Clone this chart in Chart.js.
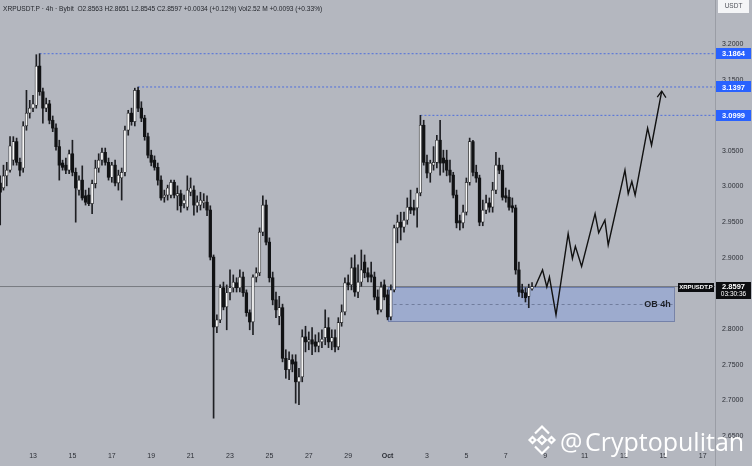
<!DOCTYPE html>
<html>
<head>
<meta charset="utf-8">
<script src="https://cdn.jsdelivr.net/npm/chart.js@4.4.1/dist/chart.umd.min.js"></script>
<style>
  html, body { margin: 0; padding: 0; background: #b4b7bf; }
  canvas { display: block; }
</style>
</head>
<body>
<canvas id="chart" width="752" height="466"></canvas>
<script>
// XRPUSDT.P 4h candles, index 0 = Sep 11 08:00, one step = 4 hours
const openVals = [
  3.005, 2.998, 3.015, 3.023, 3.037, 3.063, 3.034, 3.026, 3.085, 3.103,
  3.110, 3.114, 3.169, 3.133, 3.110, 3.116, 3.093, 3.082, 3.056, 3.033,
  3.030, 3.023, 3.046, 3.020, 2.995, 3.009, 2.987, 2.988, 2.976, 3.004,
  3.026, 3.037, 3.048, 3.034, 3.013, 3.030, 3.005, 3.012, 3.020, 3.079,
  3.103, 3.091, 3.135, 3.110, 3.096, 3.070, 3.044, 3.037, 3.027, 3.009,
  2.985, 2.988, 2.988, 3.006, 2.987, 2.990, 2.976, 2.971, 2.992, 2.995,
  2.973, 2.974, 2.977, 2.978, 2.967, 2.901, 2.803, 2.813, 2.858, 2.831,
  2.851, 2.858, 2.865, 2.858, 2.873, 2.851, 2.823, 2.810, 2.873, 2.879,
  2.936, 2.974, 2.922, 2.872, 2.841, 2.818, 2.830, 2.759, 2.743, 2.757,
  2.754, 2.726, 2.733, 2.789, 2.782, 2.785, 2.782, 2.776, 2.782, 2.788,
  2.802, 2.782, 2.788, 2.775, 2.809, 2.824, 2.865, 2.862, 2.886, 2.852,
  2.866, 2.894, 2.879, 2.876, 2.873, 2.845, 2.827, 2.862, 2.848, 2.817,
  2.855, 2.942, 2.950, 2.943, 2.953, 2.971, 2.970, 2.970, 2.991, 3.086,
  3.034, 3.019, 3.030, 3.034, 3.065, 3.040, 3.037, 3.023, 3.016, 2.988,
  2.952, 2.949, 2.964, 3.006, 3.063, 3.020, 3.012, 2.950, 2.967, 2.977,
  2.971, 2.995, 3.030, 3.023, 2.987, 2.985, 2.973, 2.970, 2.883, 2.855,
  2.851, 2.846, 2.8563
];
const highVals = [
  3.015, 3.030, 3.034, 3.070, 3.070, 3.068, 3.040, 3.091, 3.135, 3.121,
  3.128, 3.185, 3.1864, 3.138, 3.124, 3.121, 3.099, 3.088, 3.065, 3.037,
  3.040, 3.051, 3.065, 3.026, 3.015, 3.029, 2.995, 2.998, 3.009, 3.037,
  3.046, 3.054, 3.054, 3.040, 3.034, 3.037, 3.023, 3.026, 3.085, 3.107,
  3.110, 3.138, 3.1397, 3.119, 3.100, 3.075, 3.051, 3.043, 3.033, 3.015,
  2.995, 3.002, 3.009, 3.009, 3.001, 2.995, 2.988, 3.015, 3.012, 3.001,
  2.987, 2.992, 2.990, 2.987, 2.973, 2.904, 2.820, 2.862, 2.866, 2.862,
  2.883, 2.876, 2.872, 2.883, 2.880, 2.855, 2.827, 2.876, 2.886, 2.942,
  2.987, 2.981, 2.928, 2.880, 2.852, 2.846, 2.835, 2.771, 2.768, 2.764,
  2.764, 2.745, 2.799, 2.804, 2.796, 2.802, 2.792, 2.795, 2.799, 2.827,
  2.816, 2.799, 2.799, 2.816, 2.834, 2.872, 2.876, 2.900, 2.904, 2.890,
  2.911, 2.904, 2.886, 2.894, 2.880, 2.855, 2.866, 2.869, 2.855, 2.862,
  2.946, 2.960, 2.964, 2.964, 2.984, 2.995, 2.981, 2.998, 3.0999, 3.093,
  3.044, 3.037, 3.056, 3.072, 3.093, 3.051, 3.051, 3.037, 3.020, 2.995,
  2.960, 2.974, 3.012, 3.068, 3.065, 3.030, 3.016, 2.981, 2.988, 2.984,
  3.006, 3.048, 3.040, 3.030, 2.998, 2.995, 2.984, 2.974, 2.894, 2.863,
  2.858, 2.863, 2.8651
];
const lowVals = [
  2.946, 2.995, 3.001, 3.020, 3.030, 3.030, 3.015, 3.020, 3.079, 3.096,
  3.105, 3.110, 3.128, 3.089, 3.105, 3.088, 3.077, 3.051, 3.009, 3.023,
  3.018, 3.018, 3.015, 2.950, 2.988, 2.981, 2.974, 2.973, 2.962, 2.998,
  3.020, 3.030, 3.030, 3.009, 3.006, 3.001, 2.995, 2.981, 3.015, 3.072,
  3.086, 3.085, 3.105, 3.091, 3.065, 3.040, 3.029, 3.023, 3.002, 2.981,
  2.978, 2.981, 2.984, 2.984, 2.967, 2.964, 2.970, 2.967, 2.987, 2.960,
  2.964, 2.967, 2.970, 2.959, 2.897, 2.675, 2.795, 2.809, 2.827, 2.799,
  2.841, 2.852, 2.852, 2.852, 2.846, 2.818, 2.799, 2.792, 2.866, 2.875,
  2.931, 2.918, 2.866, 2.834, 2.816, 2.806, 2.754, 2.731, 2.729, 2.740,
  2.696, 2.694, 2.726, 2.768, 2.771, 2.764, 2.768, 2.768, 2.774, 2.778,
  2.774, 2.771, 2.768, 2.771, 2.804, 2.820, 2.855, 2.855, 2.846, 2.844,
  2.860, 2.872, 2.866, 2.866, 2.841, 2.821, 2.824, 2.841, 2.813, 2.813,
  2.852, 2.921, 2.925, 2.936, 2.947, 2.962, 2.960, 2.943, 2.987, 3.030,
  3.012, 3.006, 3.023, 3.026, 3.016, 3.020, 3.015, 3.006, 2.984, 2.942,
  2.939, 2.942, 2.960, 3.002, 3.015, 3.006, 2.945, 2.945, 2.962, 2.964,
  2.964, 2.990, 3.018, 2.981, 2.978, 2.967, 2.964, 2.877, 2.846, 2.844,
  2.838, 2.830, 2.8545
];
const closeVals = [
  2.992, 3.015, 3.023, 3.057, 3.063, 3.034, 3.023, 3.085, 3.103, 3.110,
  3.116, 3.169, 3.133, 3.110, 3.116, 3.093, 3.082, 3.056, 3.030, 3.027,
  3.023, 3.046, 3.020, 2.998, 3.009, 2.984, 2.978, 2.976, 3.004, 3.026,
  3.037, 3.048, 3.034, 3.013, 3.030, 3.005, 3.016, 3.020, 3.079, 3.103,
  3.091, 3.135, 3.110, 3.096, 3.070, 3.044, 3.034, 3.027, 3.009, 2.984,
  2.988, 2.998, 3.006, 2.988, 2.990, 2.973, 2.981, 2.995, 2.998, 2.974,
  2.978, 2.981, 2.980, 2.967, 2.901, 2.803, 2.813, 2.858, 2.831, 2.851,
  2.858, 2.866, 2.858, 2.873, 2.851, 2.823, 2.810, 2.873, 2.879, 2.936,
  2.974, 2.922, 2.872, 2.841, 2.827, 2.830, 2.759, 2.743, 2.757, 2.751,
  2.726, 2.733, 2.789, 2.782, 2.785, 2.779, 2.776, 2.782, 2.786, 2.802,
  2.782, 2.788, 2.775, 2.809, 2.824, 2.865, 2.862, 2.886, 2.852, 2.866,
  2.883, 2.879, 2.873, 2.873, 2.845, 2.827, 2.859, 2.845, 2.817, 2.855,
  2.942, 2.950, 2.943, 2.953, 2.971, 2.967, 2.967, 2.991, 3.086, 3.034,
  3.019, 3.033, 3.034, 3.065, 3.033, 3.033, 3.023, 3.016, 2.988, 2.949,
  2.949, 2.964, 3.006, 3.063, 3.020, 3.012, 2.950, 2.967, 2.977, 2.971,
  2.995, 3.030, 3.023, 2.985, 2.984, 2.971, 2.970, 2.883, 2.852, 2.851,
  2.844, 2.858, 2.8597
];

// time axis: candle index of each labelled day
const dayTicks = [10, 22, 34, 46, 58, 70, 82, 94, 106, 118, 130, 142, 154, 166, 178, 190, 202, 214];
const dayLabels = ['13', '15', '17', '19', '21', '23', '25', '27', '29', 'Oct', '3', '5', '7', '9', '11', '13', '15', '17'];
const priceTicks = [2.65, 2.70, 2.75, 2.80, 2.85, 2.90, 2.95, 3.00, 3.05, 3.10, 3.15, 3.20];

// marked highs (dotted lines) and where they start
const levelPrices = [3.1864, 3.1397, 3.0999];
const levelStart = [12, 42, 128];

// projected path drawn by the author
const pathX = [162.9, 165.2, 166.5, 167.3, 169.3, 173.0, 174.3, 175.2, 177.1, 181.2, 182.3, 184.2, 185.2, 190.3, 191.3, 192.4, 193.4, 197.2, 198.4, 201.5];
const pathY = [2.859, 2.883, 2.859, 2.873, 2.820, 2.934, 2.899, 2.916, 2.888, 2.962, 2.935, 2.953, 2.918, 3.023, 2.990, 3.007, 2.988, 3.082, 3.058, 3.134];

// 4h order block
const obFrom = 118, obTo = 205.2;
const obHigh = 2.859, obLow = 2.811, obMid = 2.835;

const lastPrice = 2.8597;
const countdown = '03:30:36';
const headerText = 'XRPUSDT.P \u00b7 4h \u00b7 Bybit  O2.8563 H2.8651 L2.8545 C2.8597 +0.0034 (+0.12%) Vol2.52 M +0.0093 (+0.33%)';

const xMin = -0.06, xMax = 217.73;
const yMin = 2.63455, yMax = 3.26174;

const FONT = '"Liberation Sans", Arial, sans-serif';

const wickData = lowVals.map((lo, i) => ({ x: i, y: [lo, highVals[i]] }));
const bodyData = openVals.map((o, i) => ({ x: i, y: [o, closeVals[i]] }));
const isUp = openVals.map((o, i) => closeVals[i] >= o);

const levelSets = levelPrices.map((p, k) => ({
    type: 'line',
    data: [{ x: levelStart[k], y: p }, { x: xMax, y: p }],
    borderColor: '#4f6fdc',
    borderWidth: 1,
    borderDash: [2, 2],
    pointRadius: 0,
    order: 3
}));

function tag(ctx, yPix, text, bg) {
    ctx.fillStyle = bg;
    ctx.fillRect(716, Math.round(yPix - 5.5), 35, 11);
    ctx.fillStyle = '#ffffff';
    ctx.font = 'bold 7.5px ' + FONT;
    ctx.textAlign = 'center';
    ctx.textBaseline = 'middle';
    ctx.fillText(text, 733.5, yPix + 0.5);
}

const overlayPlugin = {
    id: 'overlay',
    beforeDatasetsDraw(chart) {
        const { ctx, scales: { x, y } } = chart;
        const x1 = x.getPixelForValue(obFrom), x2 = x.getPixelForValue(obTo);
        const y1 = y.getPixelForValue(obHigh), y2 = y.getPixelForValue(obLow);
        ctx.save();
        ctx.fillStyle = 'rgba(110,145,240,0.32)';
        ctx.fillRect(x1, y1, x2 - x1, y2 - y1);
        ctx.strokeStyle = 'rgba(70,90,150,0.55)';
        ctx.lineWidth = 1;
        ctx.strokeRect(Math.round(x1) + 0.5, Math.round(y1) + 0.5, Math.round(x2 - x1), Math.round(y2 - y1));
        const ym = Math.round(y.getPixelForValue(obMid)) + 0.5;
        ctx.setLineDash([3, 3]);
        ctx.strokeStyle = 'rgba(70,80,110,0.5)';
        ctx.beginPath();
        ctx.moveTo(x1, ym);
        ctx.lineTo(x2, ym);
        ctx.stroke();
        ctx.restore();
    },
    afterDraw(chart) {
        const { ctx, scales: { x, y } } = chart;
        ctx.save();

        // arrow head on the projection
        const pts = chart.getDatasetMeta(chart.data.datasets.length - 1).data;
        const tip = pts[pts.length - 1];
        ctx.strokeStyle = '#111';
        ctx.lineWidth = 1.3;
        ctx.beginPath();
        ctx.moveTo(tip.x - 4.5, tip.y + 6);
        ctx.lineTo(tip.x, tip.y);
        ctx.lineTo(tip.x + 4.2, tip.y + 6.5);
        ctx.stroke();

        // OB label
        ctx.fillStyle = '#1d2027';
        ctx.font = 'bold 9px ' + FONT;
        ctx.textAlign = 'right';
        ctx.textBaseline = 'middle';
        ctx.fillText('OB 4h', x.getPixelForValue(obTo) - 3, y.getPixelForValue(obMid));

        // price axis separator
        ctx.strokeStyle = '#9a9da5';
        ctx.lineWidth = 1;
        ctx.beginPath();
        ctx.moveTo(715.5, 0);
        ctx.lineTo(715.5, 466);
        ctx.stroke();

        // level tags
        levelPrices.forEach(p => tag(ctx, y.getPixelForValue(p), p.toFixed(4), '#2962ff'));

        // last price tag
        const yl = y.getPixelForValue(lastPrice);
        ctx.fillStyle = '#0c0d10';
        ctx.fillRect(716, Math.round(yl - 5), 35, 17);
        ctx.fillRect(678, Math.round(yl - 4), 36, 9);
        ctx.fillStyle = '#ffffff';
        ctx.textAlign = 'center';
        ctx.font = 'bold 7.5px ' + FONT;
        ctx.fillText(lastPrice.toFixed(4), 733.5, yl);
        ctx.font = '6.5px ' + FONT;
        ctx.fillText(countdown, 733.5, yl + 7.5);
        ctx.font = 'bold 6px ' + FONT;
        ctx.fillText('XRPUSDT.P', 696, yl + 0.5);

        // currency box
        ctx.fillStyle = '#f4f5f7';
        ctx.fillRect(718, 0, 31, 13);
        ctx.fillStyle = '#50535b';
        ctx.font = '6.5px ' + FONT;
        ctx.fillText('USDT', 733.5, 6.5);

        // header
        ctx.fillStyle = '#1f2228';
        ctx.font = '6.6px ' + FONT;
        ctx.textAlign = 'left';
        ctx.fillText(headerText, 3, 9);

        // watermark
        ctx.strokeStyle = '#ffffff';
        ctx.fillStyle = '#ffffff';
        ctx.lineWidth = 2.2;
        const cx = 542, cy = 440;
        const diamond = (dx, dy, r) => {
            ctx.beginPath();
            ctx.moveTo(cx + dx, cy + dy - r);
            ctx.lineTo(cx + dx + r, cy + dy);
            ctx.lineTo(cx + dx, cy + dy + r);
            ctx.lineTo(cx + dx - r, cy + dy);
            ctx.closePath();
            ctx.stroke();
        };
        diamond(0, 0, 4);
        diamond(-9.5, 0, 3);
        diamond(9.5, 0, 3);
        ctx.beginPath();
        ctx.moveTo(cx - 7, cy - 6.5); ctx.lineTo(cx, cy - 13.5); ctx.lineTo(cx + 7, cy - 6.5);
        ctx.moveTo(cx - 7, cy + 6.5); ctx.lineTo(cx, cy + 13.5); ctx.lineTo(cx + 7, cy + 6.5);
        ctx.stroke();
        ctx.font = '25px "Open Sans", sans-serif';
        ctx.textBaseline = 'alphabetic';
        ctx.fillText('@', 560, 451);
        ctx.fillText('Cryptopulitan', 585, 451);

        ctx.restore();
    }
};

new Chart(document.getElementById('chart'), {
    type: 'bar',
    data: {
        datasets: [
            {
                data: wickData,
                backgroundColor: '#1e1f23',
                barThickness: 1,
                grouped: false,
                order: 2
            },
            {
                data: bodyData,
                backgroundColor: isUp.map(u => u ? '#f6f6f6' : '#111214'),
                borderColor: '#1a1b1e',
                borderWidth: isUp.map(u => u ? 0.7 : 0),
                borderSkipped: false,
                barThickness: 2.6,
                grouped: false,
                order: 1
            },
            ...levelSets,
            {
                type: 'line',
                data: [{ x: xMin, y: lastPrice }, { x: xMax, y: lastPrice }],
                borderColor: '#777a81',
                borderWidth: 1,
                pointRadius: 0,
                order: 4
            },
            {
                type: 'line',
                data: pathX.map((v, i) => ({ x: v, y: pathY[i] })),
                borderColor: '#111111',
                borderWidth: 1.4,
                pointRadius: 0,
                tension: 0,
                order: 0
            }
        ]
    },
    options: {
        responsive: false,
        animation: false,
        devicePixelRatio: 1,
        layout: { padding: 0 },
        plugins: { legend: { display: false }, tooltip: { enabled: false } },
        scales: {
            x: {
                type: 'linear',
                min: xMin,
                max: xMax,
                offset: false,
                grid: { display: false, drawTicks: false },
                border: { display: false },
                ticks: {
                    autoSkip: false,
                    maxRotation: 0,
                    padding: 5,
                    color: '#2c2f36',
                    font: ctx => ({ family: FONT, size: 7, weight: ctx.tick && ctx.tick.label === 'Oct' ? 'bold' : 'normal' }),
                    callback: v => dayLabels[dayTicks.indexOf(v)]
                },
                afterBuildTicks: s => { s.ticks = dayTicks.map(v => ({ value: v })); },
                afterFit: s => { s.height = 19; s.paddingLeft = 0; s.paddingRight = 0; }
            },
            y: {
                type: 'linear',
                position: 'right',
                min: yMin,
                max: yMax,
                grid: { display: false, drawTicks: false },
                border: { display: false },
                ticks: {
                    padding: 7,
                    color: '#2c2f36',
                    font: { family: FONT, size: 7 },
                    callback: v => Number(v).toFixed(4)
                },
                afterBuildTicks: s => { s.ticks = priceTicks.map(v => ({ value: v })); },
                afterFit: s => { s.width = 37; s.paddingTop = 0; s.paddingBottom = 0; }
            }
        }
    },
    plugins: [overlayPlugin]
});
</script>
</body>
</html>
